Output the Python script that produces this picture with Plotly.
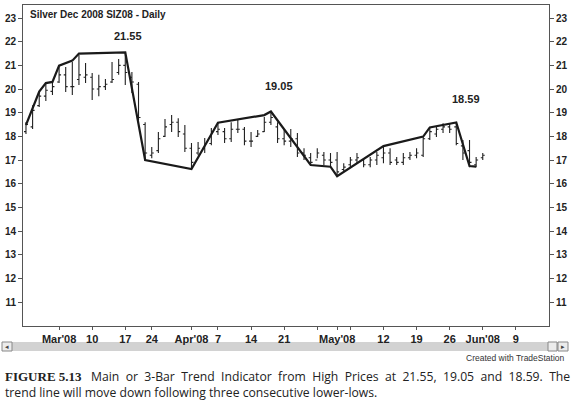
import plotly.graph_objects as go
import pandas as pd

# ---------------- data ----------------
dates = ["2008-02-25","2008-02-26","2008-02-27","2008-02-28","2008-02-29",
         "2008-03-03","2008-03-04","2008-03-05","2008-03-06","2008-03-07",
         "2008-03-10","2008-03-11","2008-03-12","2008-03-13","2008-03-14",
         "2008-03-17","2008-03-18","2008-03-19","2008-03-20",
         "2008-03-24","2008-03-25","2008-03-26","2008-03-27","2008-03-28",
         "2008-03-31","2008-04-01","2008-04-02","2008-04-03","2008-04-04",
         "2008-04-07","2008-04-08","2008-04-09","2008-04-10","2008-04-11",
         "2008-04-14","2008-04-15","2008-04-16","2008-04-17","2008-04-18",
         "2008-04-21","2008-04-22","2008-04-23","2008-04-24","2008-04-25",
         "2008-04-28","2008-04-29","2008-04-30","2008-05-01","2008-05-02",
         "2008-05-05","2008-05-06","2008-05-07","2008-05-08","2008-05-09",
         "2008-05-12","2008-05-13","2008-05-14","2008-05-15","2008-05-16",
         "2008-05-19","2008-05-20","2008-05-21","2008-05-22","2008-05-23",
         "2008-05-26","2008-05-27","2008-05-28","2008-05-29","2008-05-30",
         "2008-06-02"]

highs = [18.60,19.32,19.87,20.25,20.30,21.00,20.93,21.14,21.44,21.10,
         20.68,20.60,20.42,21.14,21.27,21.55,20.72,20.30,18.60,
         17.55,18.18,18.73,18.90,18.77,18.48,17.72,17.76,17.93,18.35,
         18.60,18.35,18.60,18.69,18.40,18.18,18.27,18.82,19.05,18.60,
         18.27,18.31,18.14,17.50,17.30,17.50,17.34,17.30,17.34,16.87,
         17.13,17.30,17.08,17.13,17.34,17.55,17.50,17.13,17.30,17.34,
         17.50,17.97,18.40,18.44,18.56,18.56,18.59,17.85,17.85,17.13,
         17.30]
lows  = [18.10,18.31,19.24,19.49,19.75,20.25,19.87,19.75,20.17,20.25,
         19.54,19.70,19.96,20.25,20.60,20.17,19.83,18.69,17.00,
         17.08,17.30,17.97,18.18,17.97,17.34,16.66,17.20,17.30,17.63,
         18.06,17.72,17.76,18.14,17.63,17.55,17.97,18.18,18.48,17.72,
         17.63,17.55,17.13,17.00,16.79,17.08,16.79,16.70,16.32,16.50,
         16.70,16.87,16.70,16.70,16.79,16.87,16.79,16.79,16.79,17.00,
         17.08,17.13,17.85,17.97,18.14,18.14,17.63,17.00,16.70,16.70,
         17.00]
opens = [18.20,18.40,19.30,19.70,19.90,20.30,20.60,20.10,20.40,20.50,
         20.50,20.00,20.10,20.30,20.70,21.00,20.50,20.20,18.50,
         17.20,17.40,18.00,18.50,18.60,18.10,17.50,17.30,17.50,17.70,
         18.20,18.20,17.90,18.30,18.30,17.80,18.00,18.20,18.60,18.40,
         17.90,17.80,17.90,17.30,17.10,17.00,17.20,17.00,17.00,16.60,
         16.80,17.00,17.00,16.80,17.00,17.10,17.30,17.00,16.90,17.10,
         17.20,17.20,17.90,18.10,18.30,18.40,18.40,17.60,17.40,16.80,
         17.10]
closes = [18.50,19.10,19.70,19.95,20.10,20.60,20.10,20.10,20.60,20.60,
          20.00,20.10,20.20,20.40,21.00,20.70,20.30,18.80,17.30,
          17.30,17.90,18.40,18.60,18.20,17.50,16.90,17.50,17.70,18.20,
          18.30,17.90,18.30,18.30,17.80,17.80,18.10,18.60,18.80,17.90,
          17.80,17.90,17.30,17.20,16.90,17.30,17.00,16.90,16.50,16.70,
          17.00,17.10,16.80,17.00,17.20,17.30,16.90,16.90,17.10,17.20,
          17.30,17.90,18.20,18.30,18.40,18.30,17.70,17.30,16.90,17.00,
          17.20]

# 3-bar trend line vertices (date, price)
trend_dates = ["2008-02-25","2008-02-26","2008-02-27","2008-02-28","2008-02-29",
               "2008-03-03","2008-03-05","2008-03-06","2008-03-17","2008-03-20",
               "2008-04-01","2008-04-07","2008-04-16","2008-04-17","2008-04-25",
               "2008-04-30","2008-05-01","2008-05-12","2008-05-20","2008-05-21",
               "2008-05-27","2008-05-29","2008-05-30"]
trend_vals = [18.48,19.15,19.89,20.25,20.30,20.99,21.20,21.50,21.55,17.00,
              16.62,18.58,18.90,19.05,16.79,16.72,16.32,17.59,17.99,18.38,
              18.59,16.75,16.72]

peak_labels = ["21.55", "19.05", "18.59"]

tick_dates = ["2008-03-03","2008-03-10","2008-03-17","2008-03-24","2008-04-01",
              "2008-04-07","2008-04-14","2008-04-21","2008-04-28","2008-05-01",
              "2008-05-05","2008-05-12","2008-05-19","2008-05-26","2008-06-02",
              "2008-06-09"]
tick_text = ["Mar'08","10","17","24","Apr'08","7","14","21","","May'08",
             "","12","19","26","Jun'08","9"]

y_ticks = list(range(11, 24))

title_text = "Silver Dec 2008 SIZ08 - Daily"
credit_text = "Created with TradeStation"
caption_fig = "FIGURE 5.13"
caption_l1 = "Main or 3-Bar Trend Indicator from High Prices at 21.55, 19.05 and 18.59. The"
caption_l2 = "trend line will move down following three consecutive lower-lows."

# ---------------- trading calendar -> x positions ----------------
cal = [d.strftime("%Y-%m-%d") for d in pd.bdate_range("2008-02-25", "2008-06-20")
       if d.strftime("%Y-%m-%d") != "2008-03-21"]
pos = {d: i for i, d in enumerate(cal)}
x_bars = [pos[d] for d in dates]
x_trend = [pos[d] for d in trend_dates]
x_ticks = [pos[d] for d in tick_dates]

W, H = 581, 409
L, R, T, B = 23, 32, 5, 83
PW, PH = W - L - R, H - T - B

def px2paper(px):
    return (px - L) / PW

def py2paper(py):
    return (H - B - py) / PH

fig = go.Figure()
fig.add_trace(go.Ohlc(
    x=x_bars, open=opens, high=highs, low=lows, close=closes,
    increasing=dict(line=dict(color="#222222", width=1.1)),
    decreasing=dict(line=dict(color="#222222", width=1.1)),
    tickwidth=0.3, showlegend=False, hoverinfo="skip"))
fig.add_trace(go.Scatter(
    x=x_trend, y=trend_vals, mode="lines",
    line=dict(color="#1a1a1a", width=2.2), showlegend=False, hoverinfo="skip"))
# invisible trace for right axis
fig.add_trace(go.Scatter(x=[x_bars[0]], y=[highs[0]], yaxis="y2", mode="markers",
                         marker=dict(opacity=0), showlegend=False, hoverinfo="skip"))

yr = [9.99, 23.55]
xr = [-0.45, -0.45 + PW / 6.62]

bold = dict(family="Liberation Sans, Arial", size=10, color="#222", weight="bold")
fig.update_layout(
    width=W, height=H,
    margin=dict(l=L, r=R, t=T, b=B, pad=0),
    paper_bgcolor="white", plot_bgcolor="white",
    xaxis=dict(range=xr, tickmode="array", tickvals=x_ticks, ticktext=tick_text,
               showgrid=False, zeroline=False, showline=True, linecolor="#555",
               linewidth=1, mirror=True, ticks="outside", ticklen=3,
               tickcolor="#555", rangeslider=dict(visible=False),
               tickfont=dict(family="Liberation Sans, Arial", size=11, color="#222",
                             weight="bold"),
               fixedrange=True),
    yaxis=dict(range=yr, tickmode="array", tickvals=y_ticks, showgrid=False,
               zeroline=False, showline=True, linecolor="#555", linewidth=1,
               ticks="outside", ticklen=4, tickcolor="#555", tickfont=bold,
               fixedrange=True),
    yaxis2=dict(range=yr, tickmode="array", tickvals=y_ticks, overlaying="y",
                side="right", showgrid=False, zeroline=False, showline=True,
                linecolor="#555", linewidth=1, ticks="outside", ticklen=4,
                tickcolor="#555", tickfont=bold, fixedrange=True),
)

annotations = []
annotations.append(dict(x=px2paper(28), y=py2paper(14), xref="paper", yref="paper",
                        text="<b>" + title_text + "</b>", showarrow=False,
                        xanchor="left", yanchor="middle",
                        font=dict(family="Liberation Sans, Arial", size=10, color="#222")))
label_pos = [(128, 36), (279, 86), (466, 99)]
for lab, (lx, ly) in zip(peak_labels, label_pos):
    annotations.append(dict(x=px2paper(lx), y=py2paper(ly), xref="paper", yref="paper",
                            text="<b>" + lab + "</b>", showarrow=False,
                            xanchor="center", yanchor="middle",
                            font=dict(family="Liberation Sans, Arial", size=11, color="#222")))
annotations.append(dict(x=px2paper(567), y=py2paper(358), xref="paper", yref="paper",
                        text=credit_text, showarrow=False, xanchor="right", yanchor="middle",
                        font=dict(family="Liberation Sans, Arial", size=8.5, color="#333")))
annotations.append(dict(x=px2paper(3), y=py2paper(376), xref="paper", yref="paper",
                        text="<b>" + caption_fig + "</b>", showarrow=False,
                        xanchor="left", yanchor="middle",
                        font=dict(family="Liberation Serif, serif", size=13, color="#222")))
annotations.append(dict(x=px2paper(89), y=py2paper(376), xref="paper", yref="paper",
                        text='<span style="word-spacing:3.2px">' + caption_l1 + "</span>",
                        showarrow=False, xanchor="left", yanchor="middle",
                        font=dict(family="Open Sans, sans-serif", size=12.2, color="#222")))
annotations.append(dict(x=px2paper(3), y=py2paper(392), xref="paper", yref="paper",
                        text=caption_l2, showarrow=False, xanchor="left", yanchor="middle",
                        font=dict(family="Open Sans, sans-serif", size=12.2, color="#222")))
# scrollbar arrows
annotations.append(dict(x=px2paper(7), y=py2paper(346.5), xref="paper", yref="paper",
                        text="◂", showarrow=False, xanchor="center", yanchor="middle",
                        font=dict(size=7, color="#444")))
annotations.append(dict(x=px2paper(563), y=py2paper(346.5), xref="paper", yref="paper",
                        text="▸", showarrow=False, xanchor="center", yanchor="middle",
                        font=dict(size=7, color="#444")))
fig.update_layout(annotations=annotations)

shapes = [
    dict(type="rect", xref="paper", yref="paper",
         x0=px2paper(2), x1=px2paper(568), y0=py2paper(351), y1=py2paper(342),
         fillcolor="#d2d2d2", line=dict(width=0), layer="below"),
    dict(type="rect", xref="paper", yref="paper",
         x0=px2paper(2), x1=px2paper(12), y0=py2paper(351), y1=py2paper(342),
         fillcolor="#ececec", line=dict(color="#888", width=1)),
    dict(type="rect", xref="paper", yref="paper",
         x0=px2paper(548), x1=px2paper(557), y0=py2paper(351), y1=py2paper(342),
         fillcolor="#ececec", line=dict(color="#888", width=1)),
    dict(type="rect", xref="paper", yref="paper",
         x0=px2paper(558), x1=px2paper(568), y0=py2paper(351), y1=py2paper(342),
         fillcolor="#ececec", line=dict(color="#888", width=1)),
]
fig.update_layout(shapes=shapes)

fig.write_html("out.html", config={"displayModeBar": False},
               post_script="document.body.style.margin='0';")
